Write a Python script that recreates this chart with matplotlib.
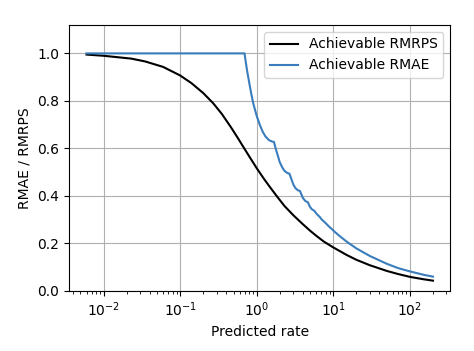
import matplotlib
matplotlib.use("Agg")
import matplotlib.pyplot as plt

# values
rate_rmrps = [0.006, 0.01, 0.023, 0.035, 0.06, 0.1, 0.14, 0.2, 0.27, 0.35, 0.46, 0.56, 0.68,
              0.82, 1.0, 1.25, 1.5, 1.86, 2.3, 3.0, 4.0, 5.0, 6.0, 7.5, 10, 15, 20, 30, 50,
              70, 100, 150, 200]
rmrps = [0.995, 0.99, 0.978, 0.966, 0.943, 0.907, 0.875, 0.833, 0.79, 0.745, 0.689, 0.646, 0.602,
         0.56, 0.516, 0.47, 0.435, 0.395, 0.357, 0.318, 0.28, 0.252, 0.231, 0.207, 0.182, 0.15,
         0.13, 0.107, 0.083, 0.07, 0.058, 0.048, 0.042]

rate_rmae = [0.006, 0.693, 0.72, 0.75, 0.8, 0.85, 0.9, 1.0, 1.1, 1.2, 1.3, 1.45, 1.6, 1.678,
             1.75, 1.85, 2.0, 2.15, 2.3, 2.5, 2.674, 2.8, 3.0, 3.2, 3.45, 3.672,
             3.85, 4.0, 4.3, 4.671, 4.9, 5.2, 5.67, 6.0, 6.67, 7.0, 7.67, 8.2, 8.67,
             9.67, 10.5, 12, 15, 20, 30, 50, 70, 100, 150, 200]
rmae = [1.0, 1.0, 0.963, 0.926, 0.875, 0.829, 0.79, 0.736, 0.698, 0.669, 0.650, 0.634, 0.628, 0.627,
        0.604, 0.578, 0.541, 0.52, 0.505, 0.496, 0.493, 0.475, 0.448, 0.432, 0.423, 0.420,
        0.404, 0.391, 0.378, 0.372, 0.356, 0.344, 0.336, 0.325, 0.310, 0.301, 0.289, 0.28, 0.272,
        0.258, 0.247, 0.231, 0.206, 0.178, 0.146, 0.113, 0.095, 0.081, 0.067, 0.059]

fig = plt.figure(figsize=(4.74, 3.51), dpi=100)
ax = fig.add_axes([0.146, 0.172, 0.804, 0.757])

ax.plot(rate_rmrps, rmrps, color="black", lw=1.5, label="Achievable RMRPS")
ax.plot(rate_rmae, rmae, color="#3a7dbd", lw=1.5, label="Achievable RMAE")

ax.set_xscale("log")
ax.set_ylim(0, 1.12)
ax.set_yticks([0.0, 0.2, 0.4, 0.6, 0.8, 1.0])
ax.grid(True, color="#b0b0b0", lw=0.8)
ax.set_xlabel("Predicted rate")
ax.set_ylabel("RMAE / RMRPS")
ax.legend(loc="upper right")

fig.savefig("out.png", dpi=100)
